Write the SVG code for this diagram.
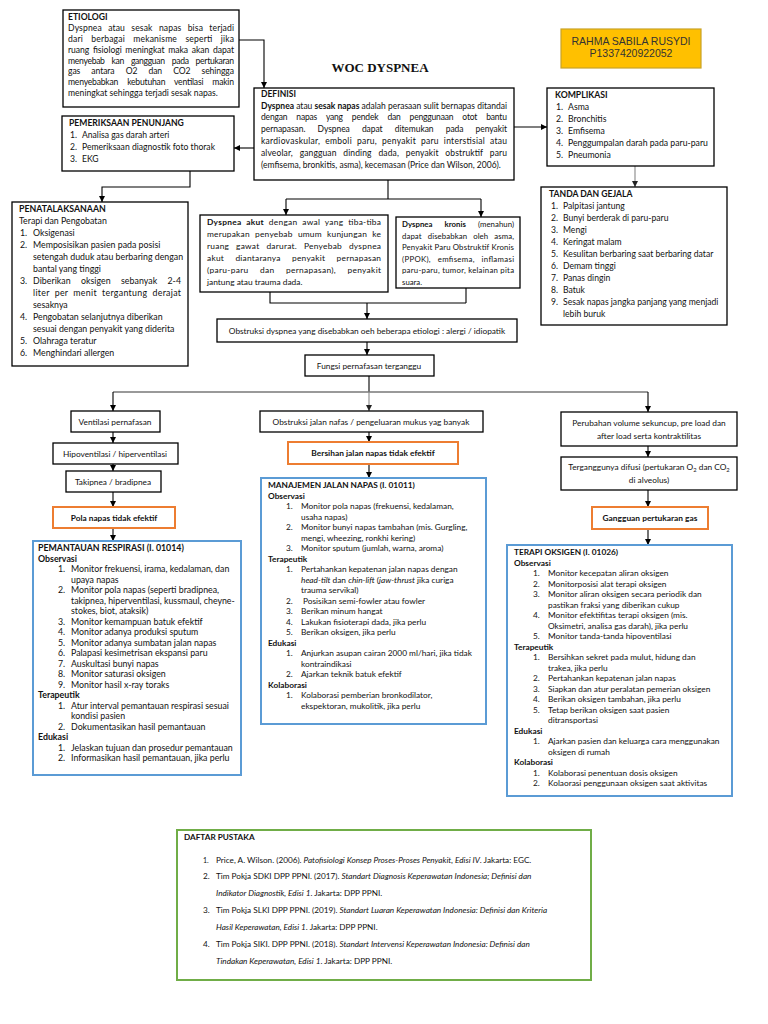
<svg xmlns="http://www.w3.org/2000/svg" width="768" height="1024" viewBox="0 0 768 1024">
<defs>
<marker id="ah" markerWidth="6" markerHeight="6" refX="6" refY="3" orient="auto" markerUnits="userSpaceOnUse"><path d="M0,0 L6,3 L0,6 z" fill="#000"/></marker>
<marker id="ahg" markerWidth="6" markerHeight="6" refX="6" refY="3" orient="auto" markerUnits="userSpaceOnUse"><path d="M0,0 L6,3 L0,6 z" fill="#222"/></marker>
</defs>
<style>
text{font-family:Lato,"Open Sans","Liberation Sans",sans-serif;font-size:8.6px;fill:#111}
.b{font-weight:bold}
.i{font-style:italic}
.m{text-anchor:middle}
.f83{font-size:8.3px}
.f85{font-size:8.5px}
.f88{font-size:8.8px}
.f87{font-size:8.7px}
.f84{font-size:8.4px}
.f78{font-size:7.8px}
.f82{font-size:8.2px}
.bx{fill:#fff;stroke:#000;stroke-width:1.3}
.or{fill:#fff;stroke:#ED7D31;stroke-width:2}
.bl{fill:#fff;stroke:#5B9BD5;stroke-width:2}
.gr{fill:#fff;stroke:#70AD47;stroke-width:2}
.c{fill:none;stroke:#000;stroke-width:1.1}
.ca{fill:none;stroke:#000;stroke-width:1.1;marker-end:url(#ah)}
.cg{fill:none;stroke:#888;stroke-width:1.1;marker-end:url(#ahg)}
</style>
<rect width="768" height="1024" fill="#fff"/>

<text x="380" y="72" class="m b" style="font-family:'Liberation Serif',serif;font-size:13px">WOC DYSPNEA</text>

<g id="name">
<rect x="561" y="29" width="140" height="39" fill="#FFC000" stroke="#C9A227" stroke-width="1.2"/>
<text x="631" y="45" class="m" style="font-family:'Liberation Sans',sans-serif;font-size:10.5px;fill:#333">RAHMA SABILA RUSYDI</text>
<text x="631" y="57" class="m" style="font-family:'Liberation Sans',sans-serif;font-size:10.5px;fill:#333">P1337420922052</text>
</g>

<g id="connectors">
<path class="ca" d="M239,40 H264 V88"/>
<path class="ca" d="M254,148 H234"/>
<path class="ca" d="M514,127 H547"/>
<path class="cg" d="M635,166 V187"/>
<path class="ca" d="M190,171 V187 H102 V202"/>
<path class="c" d="M388,180 V199 M286,199 H481"/>
<path class="ca" d="M286,199 V215"/>
<path class="ca" d="M481,199 V217"/>
<path class="c" d="M270,292 V303 H466 M466,288 V303"/>
<path class="ca" d="M367,303 V319"/>
<path class="ca" d="M367,342 V355"/>
<path class="c" d="M369,376 V392"/>
<path d="M113,392 H648" fill="none" stroke="#777" stroke-width="1.3"/>
<path class="ca" d="M113,392 V411"/>
<path class="cg" d="M369,392 V411"/>
<path class="ca" d="M648,392 V412"/>
<path class="ca" d="M113,432 V443"/>
<path class="ca" d="M113,464 V471"/>
<path class="ca" d="M113,492 V507"/>
<path class="ca" d="M113,528 V541"/>
<path class="ca" d="M369,432 V442"/>
<path class="ca" d="M369,464 V478"/>
<path class="ca" d="M648,446 V457"/>
<path class="ca" d="M648,490 V507"/>
<path class="ca" d="M648,529 V545"/>
</g>

<g id="etiologi">
<rect class="bx" x="63" y="10" width="176" height="97"/>
<text x="68" y="20" class="b">ETIOLOGI</text>
<text x="68" y="31" word-spacing="4" textLength="166" lengthAdjust="spacing">Dyspnea atau sesak napas bisa terjadi</text>
<text x="68" y="42" word-spacing="6" textLength="166" lengthAdjust="spacing">dari berbagai mekanisme seperti jika</text>
<text x="68" y="53" word-spacing="1.5" textLength="166" lengthAdjust="spacing">ruang fisiologi meningkat maka akan dapat</text>
<text x="68" y="63.5" word-spacing="5" textLength="166" lengthAdjust="spacing">menyebab kan gangguan pada pertukaran</text>
<text x="68" y="74" word-spacing="9" textLength="166" lengthAdjust="spacing">gas antara O2 dan CO2 sehingga</text>
<text x="68" y="85" word-spacing="7" textLength="166" lengthAdjust="spacing">menyebabkan kebutuhan ventilasi makin</text>
<text x="68" y="96">meningkat sehingga terjadi sesak napas.</text>
</g>

<g id="definisi">
<rect class="bx" x="254" y="88" width="260" height="92"/>
<text x="261" y="97" class="b f85">DEFINISI</text>
<text x="261" y="108.5" class="f85" textLength="246" lengthAdjust="spacing"><tspan class="b">Dyspnea</tspan> atau <tspan class="b">sesak napas</tspan> adalah perasaan sulit bernapas ditandai</text>
<text x="261" y="120" class="f85" word-spacing="7" textLength="246" lengthAdjust="spacing">dengan napas yang pendek dan penggunaan otot bantu</text>
<text x="261" y="132" class="f85" word-spacing="10" textLength="246" lengthAdjust="spacing">pernapasan. Dyspnea dapat ditemukan pada penyakit</text>
<text x="261" y="144" class="f85" word-spacing="2.5" textLength="246" lengthAdjust="spacing">kardiovaskular, emboli paru, penyakit paru interstisial atau</text>
<text x="261" y="156" class="f85" word-spacing="4.5" textLength="246" lengthAdjust="spacing">alveolar, gangguan dinding dada, penyakit obstruktif paru</text>
<text x="261" y="168" class="f85">(emfisema, bronkitis, asma), kecemasan (Price dan Wilson, 2006).</text>
</g>

<g id="komplikasi">
<rect class="bx" x="547" y="88" width="167" height="78"/>
<text x="555" y="98" class="b f87">KOMPLIKASI</text>
<text x="556" y="110" class="f87">1.</text><text x="568" y="110" class="f87">Asma</text>
<text x="556" y="122" class="f87">2.</text><text x="568" y="122" class="f87">Bronchitis</text>
<text x="556" y="134" class="f87">3.</text><text x="568" y="134" class="f87">Emfisema</text>
<text x="556" y="146" class="f87">4.</text><text x="568" y="146" class="f87">Penggumpalan darah pada paru-paru</text>
<text x="556" y="158" class="f87">5.</text><text x="568" y="158" class="f87">Pneumonia</text>
</g>

<g id="tanda">
<rect class="bx" x="541" y="187" width="186" height="138"/>
<text x="549" y="197" class="b">TANDA DAN GEJALA</text>
<text x="551" y="209">1.</text><text x="563" y="209">Palpitasi jantung</text>
<text x="551" y="221">2.</text><text x="563" y="221">Bunyi berderak di paru-paru</text>
<text x="551" y="233">3.</text><text x="563" y="233">Mengi</text>
<text x="551" y="245">4.</text><text x="563" y="245">Keringat malam</text>
<text x="551" y="257">5.</text><text x="563" y="257">Kesulitan berbaring saat berbaring datar</text>
<text x="551" y="269">6.</text><text x="563" y="269">Demam tinggi</text>
<text x="551" y="281">7.</text><text x="563" y="281">Panas dingin</text>
<text x="551" y="293">8.</text><text x="563" y="293">Batuk</text>
<text x="551" y="305">9.</text><text x="563" y="305">Sesak napas jangka panjang yang menjadi</text>
<text x="563" y="317">lebih buruk</text>
</g>

<g id="pemeriksaan">
<rect class="bx" x="62" y="116" width="172" height="55"/>
<text x="69" y="126" class="b">PEMERIKSAAN PENUNJANG</text>
<text x="70" y="138">1.</text><text x="82" y="138">Analisa gas darah arteri</text>
<text x="70" y="150">2.</text><text x="82" y="150">Pemeriksaan diagnostik foto thorak</text>
<text x="70" y="162">3.</text><text x="82" y="162">EKG</text>
</g>

<g id="penatalaksanaan">
<rect class="bx" x="12" y="202" width="176" height="164"/>
<text x="19" y="212" class="b f88">PENATALAKSANAAN</text>
<text x="19" y="224" class="f88">Terapi dan Pengobatan</text>
<text x="20" y="236" class="f88">1.</text><text x="33" y="236" class="f88">Oksigenasi</text>
<text x="20" y="248" class="f88">2.</text><text x="33" y="248" class="f88">Memposisikan pasien pada posisi</text>
<text x="33" y="260" class="f88">setengah duduk atau berbaring dengan</text>
<text x="33" y="272" class="f88">bantal yang tinggi</text>
<text x="20" y="284" class="f88">3.</text><text x="33" y="284" class="f88" word-spacing="8" textLength="148" lengthAdjust="spacing">Diberikan oksigen sebanyak 2-4</text>
<text x="33" y="296" class="f88" word-spacing="2.5" textLength="148" lengthAdjust="spacing">liter per menit tergantung derajat</text>
<text x="33" y="308" class="f88">sesaknya</text>
<text x="20" y="320" class="f88">4.</text><text x="33" y="320" class="f88">Pengobatan selanjutnya diberikan</text>
<text x="33" y="332" class="f88">sesuai dengan penyakit yang diderita</text>
<text x="20" y="344" class="f88">5.</text><text x="33" y="344" class="f88">Olahraga teratur</text>
<text x="20" y="356" class="f88">6.</text><text x="33" y="356" class="f88">Menghindari allergen</text>
</g>

<g id="akut">
<rect class="bx" x="200" y="215" width="188" height="77"/>
<text x="207" y="225" class="f84" word-spacing="2.5" textLength="174" lengthAdjust="spacing"><tspan class="b">Dyspnea akut</tspan> dengan awal yang tiba-tiba</text>
<text x="207" y="237" class="f84" word-spacing="3" textLength="174" lengthAdjust="spacing">merupakan penyebab umum kunjungan ke</text>
<text x="207" y="249" class="f84" word-spacing="4.5" textLength="174" lengthAdjust="spacing">ruang gawat darurat. Penyebab dyspnea</text>
<text x="207" y="261" class="f84" word-spacing="9" textLength="174" lengthAdjust="spacing">akut diantaranya penyakit pernapasan</text>
<text x="207" y="273" class="f84" word-spacing="9" textLength="174" lengthAdjust="spacing">(paru-paru dan pernapasan), penyakit</text>
<text x="207" y="285" class="f84">jantung atau trauma dada.</text>
</g>

<g id="kronis">
<rect class="bx" x="396" y="217" width="124" height="71"/>
<text x="402" y="227" class="f78" word-spacing="10" textLength="112" lengthAdjust="spacing"><tspan class="b">Dyspnea kronis</tspan> (menahun)</text>
<text x="402" y="238.5" class="f78" word-spacing="4" textLength="112" lengthAdjust="spacing">dapat disebabkan oleh asma,</text>
<text x="402" y="250" class="f78" textLength="112" lengthAdjust="spacing">Penyakit Paru Obstruktif Kronis</text>
<text x="402" y="261.5" class="f78" word-spacing="4.5" textLength="112" lengthAdjust="spacing">(PPOK), emfisema, inflamasi</text>
<text x="402" y="273" class="f78" textLength="112" lengthAdjust="spacing">paru-paru, tumor, kelainan pita</text>
<text x="402" y="284.5" class="f78">suara.</text>
</g>

<g id="obstruksi-dyspnea">
<rect class="bx" x="217" y="319" width="300" height="23"/>
<text x="367" y="333.5" class="m f83">Obstruksi dyspnea yang disebabkan oeh beberapa etiologi : alergi / idiopatik</text>
</g>

<g id="fungsi">
<rect class="bx" x="305" y="355" width="129" height="21"/>
<text x="369" y="368.5" class="m f83">Fungsi pernafasan terganggu</text>
</g>

<g id="ventilasi">
<rect class="bx" x="71" y="411" width="89" height="21"/>
<text x="115" y="424.5" class="m f83">Ventilasi pernafasan</text>
</g>
<g id="hipoventilasi">
<rect class="bx" x="53" y="443" width="125" height="21"/>
<text x="115" y="456.5" class="m f83">Hipoventilasi / hiperventilasi</text>
</g>
<g id="takipnea">
<rect class="bx" x="66" y="471" width="95" height="21"/>
<text x="113" y="484.5" class="m f83">Takipnea / bradipnea</text>
</g>
<g id="pola">
<rect class="or" x="53" y="507" width="122" height="21"/>
<text x="114" y="520.5" class="m b f83">Pola napas tidak efektif</text>
</g>

<g id="obstruksi-jalan">
<rect class="bx" x="260" y="411" width="223" height="21"/>
<text x="371" y="424.5" class="m f83">Obstruksi jalan nafas / pengeluaran mukus yag banyak</text>
</g>
<g id="bersihan">
<rect class="or" x="288" y="442" width="170" height="22"/>
<text x="373" y="456" class="m b f84">Bersihan jalan napas tidak efektif</text>
</g>

<g id="perubahan">
<rect class="bx" x="561" y="412" width="176" height="34"/>
<text x="649" y="425.5" class="m f83">Perubahan volume sekuncup, pre load dan</text>
<text x="649" y="438.5" class="m f83">after load serta kontraktilitas</text>
</g>
<g id="terganggunya">
<rect class="bx" x="561" y="457" width="176" height="33"/>
<text x="649" y="470" class="m f83">Terganggunya difusi (pertukaran O<tspan dy="2" style="font-size:5.8px">2</tspan><tspan dy="-2"> dan CO</tspan><tspan dy="2" style="font-size:5.8px">2</tspan></text>
<text x="649" y="483" class="m f83">di alveolus)</text>
</g>
<g id="gangguan">
<rect class="or" x="592" y="507" width="116" height="22"/>
<text x="650" y="521" class="m b f84">Gangguan pertukaran gas</text>
</g>

<g id="pemantauan">
<rect class="bl" x="33" y="541" width="208" height="234"/>
<text x="38" y="551" class="b f88">PEMANTAUAN RESPIRASI (I. 01014)</text>
<text x="38" y="561.5" class="b f88">Observasi</text>
<text x="58" y="572" class="f88">1.</text><text x="71" y="572" class="f88">Monitor frekuensi, irama, kedalaman, dan</text>
<text x="71" y="582.5" class="f88">upaya napas</text>
<text x="58" y="593" class="f88">2.</text><text x="71" y="593" class="f88">Monitor pola napas (seperti bradipnea,</text>
<text x="71" y="603.5" class="f88">takipnea, hiperventilasi, kussmaul, cheyne-</text>
<text x="71" y="614" class="f88">stokes, biot, ataksik)</text>
<text x="58" y="624.5" class="f88">3.</text><text x="71" y="624.5" class="f88">Monitor kemampuan batuk efektif</text>
<text x="58" y="635" class="f88">4.</text><text x="71" y="635" class="f88">Monitor adanya produksi sputum</text>
<text x="58" y="645.5" class="f88">5.</text><text x="71" y="645.5" class="f88">Monitor adanya sumbatan jalan napas</text>
<text x="58" y="656" class="f88">6.</text><text x="71" y="656" class="f88">Palapasi kesimetrisan ekspansi paru</text>
<text x="58" y="666.5" class="f88">7.</text><text x="71" y="666.5" class="f88">Auskultasi bunyi napas</text>
<text x="58" y="677" class="f88">8.</text><text x="71" y="677" class="f88">Monitor saturasi oksigen</text>
<text x="58" y="687.5" class="f88">9.</text><text x="71" y="687.5" class="f88">Monitor hasil x-ray toraks</text>
<text x="38" y="698" class="b f88">Terapeutik</text>
<text x="58" y="708.5" class="f88">1.</text><text x="71" y="708.5" class="f88">Atur interval pemantauan respirasi sesuai</text>
<text x="71" y="719" class="f88">kondisi pasien</text>
<text x="58" y="729.5" class="f88">2.</text><text x="71" y="729.5" class="f88">Dokumentasikan hasil pemantauan</text>
<text x="38" y="740" class="b f88">Edukasi</text>
<text x="58" y="750.5" class="f88">1.</text><text x="71" y="750.5" class="f88">Jelaskan tujuan dan prosedur pemantauan</text>
<text x="58" y="761" class="f88">2.</text><text x="71" y="761" class="f88">Informasikan hasil pemantauan, jika perlu</text>
</g>

<g id="manajemen">
<rect class="bl" x="261" y="478" width="225" height="246"/>
<text x="268" y="488" class="b f83">MANAJEMEN JALAN NAPAS (I. 01011)</text>
<text x="268" y="498.5" class="b f83">Observasi</text>
<text x="286" y="509" class="f83">1.</text><text x="301" y="509" class="f83">Monitor pola napas (frekuensi, kedalaman,</text>
<text x="301" y="519.5" class="f83">usaha napas)</text>
<text x="286" y="530" class="f83">2.</text><text x="301" y="530" class="f83">Monitor bunyi napas tambahan (mis. Gurgling,</text>
<text x="301" y="540.5" class="f83">mengi, wheezing, ronkhi kering)</text>
<text x="286" y="551" class="f83">3.</text><text x="301" y="551" class="f83">Monitor sputum (jumlah, warna, aroma)</text>
<text x="268" y="561.5" class="b f83">Terapeutik</text>
<text x="286" y="572" class="f83">1.</text><text x="301" y="572" class="f83">Pertahankan kepatenan jalan napas dengan</text>
<text x="301" y="582.5" class="f83"><tspan class="i">head-tilt</tspan> dan <tspan class="i">chin-lift</tspan> (<tspan class="i">jaw-thrust</tspan> jika curiga</text>
<text x="301" y="593" class="f83">trauma servikal)</text>
<text x="286" y="603.5" class="f83">2.</text><text x="303" y="603.5" class="f83">Posisikan semi-fowler atau fowler</text>
<text x="286" y="614" class="f83">3.</text><text x="301" y="614" class="f83">Berikan minum hangat</text>
<text x="286" y="624.5" class="f83">4.</text><text x="301" y="624.5" class="f83">Lakukan fisioterapi dada, jika perlu</text>
<text x="286" y="635" class="f83">5.</text><text x="301" y="635" class="f83">Berikan oksigen, jika perlu</text>
<text x="268" y="645.5" class="b f83">Edukasi</text>
<text x="286" y="656" class="f83">1.</text><text x="301" y="656" class="f83">Anjurkan asupan cairan 2000 ml/hari, jika tidak</text>
<text x="301" y="666.5" class="f83">kontraindikasi</text>
<text x="286" y="677" class="f83">2.</text><text x="301" y="677" class="f83">Ajarkan teknik batuk efektif</text>
<text x="268" y="687.5" class="b f83">Kolaborasi</text>
<text x="286" y="698" class="f83">1.</text><text x="301" y="698" class="f83">Kolaborasi pemberian bronkodilator,</text>
<text x="301" y="708.5" class="f83">ekspektoran, mukolitik, jika perlu</text>
</g>

<g id="terapi-oksigen">
<rect class="bl" x="507" y="545" width="225" height="251"/>
<text x="514" y="555" class="b f83">TERAPI OKSIGEN (I. 01026)</text>
<text x="514" y="565.5" class="b f83">Observasi</text>
<text x="533" y="576" class="f83">1.</text><text x="548" y="576" class="f83">Monitor kecepatan aliran oksigen</text>
<text x="533" y="586.5" class="f83">2.</text><text x="548" y="586.5" class="f83">Monitorposisi alat terapi oksigen</text>
<text x="533" y="597" class="f83">3.</text><text x="548" y="597" class="f83">Monitor aliran oksigen secara periodik dan</text>
<text x="548" y="607.5" class="f83">pastikan fraksi yang diberikan cukup</text>
<text x="533" y="618" class="f83">4.</text><text x="548" y="618" class="f83">Monitor efektifitas terapi oksigen (mis.</text>
<text x="548" y="628.5" class="f83">Oksimetri, analisa gas darah), jika perlu</text>
<text x="533" y="639" class="f83">5.</text><text x="548" y="639" class="f83">Monitor tanda-tanda hipoventilasi</text>
<text x="514" y="649.5" class="b f83">Terapeutik</text>
<text x="533" y="660" class="f83">1.</text><text x="548" y="660" class="f83">Bersihkan sekret pada mulut, hidung dan</text>
<text x="548" y="670.5" class="f83">trakea, jika perlu</text>
<text x="533" y="681" class="f83">2.</text><text x="548" y="681" class="f83">Pertahankan kepatenan jalan napas</text>
<text x="533" y="691.5" class="f83">3.</text><text x="548" y="691.5" class="f83">Siapkan dan atur peralatan pemerian oksigen</text>
<text x="533" y="702" class="f83">4.</text><text x="548" y="702" class="f83">Berikan oksigen tambahan, jika perlu</text>
<text x="533" y="712.5" class="f83">5.</text><text x="548" y="712.5" class="f83">Tetap berikan oksigen saat pasien</text>
<text x="548" y="723" class="f83">ditransportasi</text>
<text x="514" y="733.5" class="b f83">Edukasi</text>
<text x="533" y="744" class="f83">1.</text><text x="548" y="744" class="f83">Ajarkan pasien dan keluarga cara menggunakan</text>
<text x="548" y="754.5" class="f83">oksigen di rumah</text>
<text x="514" y="765" class="b f83">Kolaborasi</text>
<text x="533" y="775.5" class="f83">1.</text><text x="548" y="775.5" class="f83">Kolaborasi penentuan dosis oksigen</text>
<text x="533" y="786" class="f83">2.</text><text x="548" y="786" class="f83">Kolaorasi penggunaan oksigen saat aktivitas</text>
</g>

<g id="daftar-pustaka">
<rect class="gr" x="177" y="830" width="414" height="150"/>
<text x="184" y="840" class="b f82">DAFTAR PUSTAKA</text>
<text x="203" y="863" style="font-size:7px">1.</text><text x="216" y="863" class="f82">Price, A. Wilson. (2006). <tspan class="i">Patofisiologi Konsep Proses-Proses Penyakit, Edisi IV</tspan>. Jakarta: EGC.</text>
<text x="203" y="879" class="f82">2.</text><text x="216" y="879" class="f82">Tim Pokja SDKI DPP PPNI. (2017). <tspan class="i">Standart Diagnosis Keperawatan Indonesia; Definisi dan</tspan></text>
<text x="216" y="896" class="f82 i">Indikator Diagnostik, Edisi 1<tspan style="font-style:normal">. Jakarta: DPP PPNI.</tspan></text>
<text x="203" y="913" class="f82">3.</text><text x="216" y="913" class="f82">Tim Pokja SLKI DPP PPNI. (2019). <tspan class="i">Standart Luaran Keperawatan Indonesia: Definisi dan Kriteria</tspan></text>
<text x="216" y="930" class="f82 i">Hasil Keperawatan, Edisi 1<tspan style="font-style:normal">. Jakarta: DPP PPNI.</tspan></text>
<text x="203" y="947" class="f82">4.</text><text x="216" y="947" class="f82">Tim Pokja SIKI. DPP PPNI. (2018). <tspan class="i">Standart Intervensi Keperawatan Indonesia: Definisi dan</tspan></text>
<text x="216" y="964" class="f82 i">Tindakan Keperawatan, Edisi 1<tspan style="font-style:normal">. Jakarta: DPP PPNI.</tspan></text>
</g>
</svg>
